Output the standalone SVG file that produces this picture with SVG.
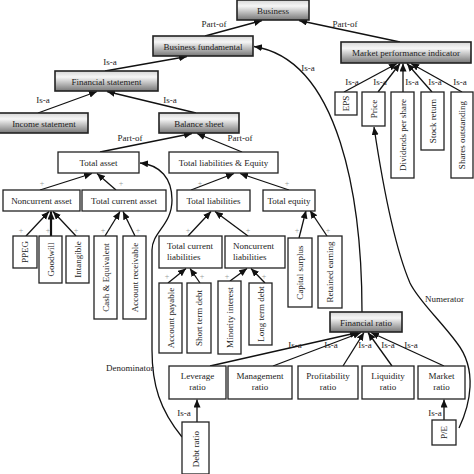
<svg xmlns="http://www.w3.org/2000/svg" width="474" height="474" viewBox="0 0 474 474">
<defs>
<linearGradient id="grad" x1="0" y1="0" x2="0" y2="1">
<stop offset="0" stop-color="#d6d6d6"/>
<stop offset="0.3" stop-color="#f6f6f6"/>
<stop offset="1" stop-color="#777"/>
</linearGradient>
<marker id="arr" markerUnits="userSpaceOnUse" markerWidth="9" markerHeight="8" refX="8" refY="3.5" orient="auto">
<path d="M0,0 L8,3.5 L0,7 z" fill="#111"/>
</marker>
<style>
.g{fill:url(#grad);stroke:#222;stroke-width:1.6}
.w{fill:#fff;stroke:#222;stroke-width:1.3}
text{font-family:"Liberation Serif","Times New Roman",serif;font-size:9px;fill:#222}
.m{text-anchor:middle}
.p{font-size:8px;fill:#999;text-anchor:middle}
#connectors line,#connectors path{stroke:#111;stroke-width:1.3;fill:none;marker-end:url(#arr)}
</style>
</defs>
<rect width="474" height="474" fill="#fff"/>

<g id="connectors">
<line x1="205" y1="36" x2="262" y2="20.5"/>
<line x1="400" y1="42" x2="299" y2="20.5"/>
<line x1="105" y1="71" x2="187" y2="56.5"/>
<line x1="38" y1="113" x2="97" y2="91.5"/>
<line x1="196" y1="113" x2="107" y2="91.5"/>
<line x1="100" y1="152" x2="192" y2="133.5"/>
<line x1="242" y1="152" x2="197" y2="133.5"/>
<line x1="40" y1="190" x2="92" y2="173.5"/>
<line x1="116" y1="190" x2="97" y2="173.5"/>
<line x1="191" y1="190" x2="234" y2="173.5"/>
<line x1="289" y1="190" x2="240" y2="173.5"/>
<line x1="26" y1="236" x2="49" y2="211.5"/>
<line x1="51" y1="236" x2="51" y2="211.5" style="stroke-width:2.2"/>
<line x1="76" y1="236" x2="53" y2="211.5"/>
<line x1="105" y1="236" x2="120" y2="211.5"/>
<line x1="135" y1="236" x2="123" y2="211.5"/>
<line x1="188" y1="236" x2="211" y2="211.5"/>
<line x1="248" y1="236" x2="215" y2="211.5"/>
<line x1="299" y1="238" x2="306" y2="210.5"/>
<line x1="327" y1="236" x2="310" y2="210.5"/>
<line x1="168" y1="283" x2="186" y2="268.5"/>
<line x1="200" y1="283" x2="190" y2="268.5"/>
<line x1="230" y1="281" x2="247" y2="268.5"/>
<line x1="265" y1="283" x2="251" y2="268.5"/>
<line x1="344" y1="92" x2="397" y2="63.5"/>
<line x1="378" y1="92" x2="400" y2="63.5"/>
<line x1="403" y1="92" x2="403" y2="63.5"/>
<line x1="432" y1="92" x2="407" y2="63.5"/>
<line x1="462" y1="92" x2="411" y2="63.5"/>
<line x1="210" y1="366" x2="358" y2="332.5"/>
<line x1="273" y1="366" x2="361" y2="332.5"/>
<line x1="343" y1="366" x2="364" y2="332.5"/>
<line x1="392" y1="366" x2="368" y2="332.5"/>
<line x1="444" y1="366" x2="371" y2="332.5"/>
<line x1="197" y1="422" x2="197" y2="399.5"/>
<line x1="444" y1="420" x2="444" y2="399.5"/>
<path d="M362,312 C362,200 340,60 254,46.5"/>
<path d="M182,437 C160,410 152,385 152,350 L152,250 C152,232 172,225 172,200 C172,178 160,165 140,163"/>
<path d="M459,428 C470,405 478,370 457,343 C440,320 418,300 410,283 C398,255 385,200 374,127"/>
</g>

<g id="edge-labels">
<text x="214" y="27" class="m">Part-of</text>
<text x="345" y="27" class="m">Part-of</text>
<text x="110" y="65" class="m">Is-a</text>
<text x="43" y="103" class="m">Is-a</text>
<text x="170" y="103" class="m">Is-a</text>
<text x="130" y="141" class="m">Part-of</text>
<text x="240" y="141" class="m">Part-of</text>
<text x="308" y="71" class="m">Is-a</text>
<text x="352" y="85" class="m">Is-a</text>
<text x="380" y="85" class="m">Is-a</text>
<text x="412" y="85" class="m">Is-a</text>
<text x="435" y="85" class="m">Is-a</text>
<text x="460" y="85" class="m">Is-a</text>
<text x="295" y="348" class="m">Is-a</text>
<text x="331" y="348" class="m">Is-a</text>
<text x="365" y="348" class="m">Is-a</text>
<text x="388" y="348" class="m">Is-a</text>
<text x="411" y="348" class="m">Is-a</text>
<text x="184" y="416" class="m">Is-a</text>
<text x="435" y="416" class="m">Is-a</text>
<text x="106" y="371">Denominator</text>
<text x="425" y="302">Numerator</text>
<text x="42" y="186" class="p">+</text>
<text x="121" y="186" class="p">+</text>
<text x="200" y="186" class="p">+</text>
<text x="287" y="186" class="p">+</text>
<text x="21" y="233" class="p">+</text>
<text x="48" y="233" class="p">+</text>
<text x="76" y="233" class="p">+</text>
<text x="103" y="233" class="p">+</text>
<text x="138" y="233" class="p">+</text>
<text x="188" y="233" class="p">+</text>
<text x="248" y="233" class="p">+</text>
<text x="297" y="233" class="p">+</text>
<text x="328" y="233" class="p">+</text>
<text x="167" y="279" class="p">+</text>
<text x="202" y="279" class="p">+</text>
<text x="227" y="279" class="p">+</text>
<text x="264" y="279" class="p">+</text>
</g>

<g id="business"><rect class="g" x="237" y="0" width="72" height="20"/><text x="273" y="13.5" class="m">Business</text></g>
<g id="business-fundamental"><rect class="g" x="153" y="36" width="100" height="20"/><text x="203" y="49.5" class="m">Business fundamental</text></g>
<g id="market-performance-indicator"><rect class="g" x="341" y="42" width="130" height="21"/><text x="406" y="55.5" class="m">Market performance indicator</text></g>
<g id="financial-statement"><rect class="g" x="55" y="71" width="103" height="20"/><text x="106.5" y="84.5" class="m">Financial statement</text></g>
<g id="income-statement"><rect class="g" x="-1" y="113" width="89" height="20"/><text x="44" y="126.5" class="m">Income statement</text></g>
<g id="balance-sheet"><rect class="g" x="159" y="113" width="80" height="20"/><text x="199" y="126.5" class="m">Balance sheet</text></g>
<g id="total-asset"><rect class="w" x="58" y="152" width="81" height="21"/><text x="98.5" y="165.5" class="m">Total asset</text></g>
<g id="total-liabilities-equity"><rect class="w" x="169" y="152" width="109" height="21"/><text x="223.5" y="165.5" class="m">Total liabilities &amp; Equity</text></g>
<g id="noncurrent-asset"><rect class="w" x="3" y="190" width="77" height="21"/><text x="41.5" y="203.5" class="m">Noncurrent asset</text></g>
<g id="total-current-asset"><rect class="w" x="82" y="190" width="84" height="21"/><text x="124" y="203.5" class="m">Total current asset</text></g>
<g id="total-liabilities"><rect class="w" x="177" y="190" width="73" height="21"/><text x="213.5" y="203.5" class="m">Total liabilities</text></g>
<g id="total-equity"><rect class="w" x="263" y="190" width="52" height="21"/><text x="289" y="203.5" class="m">Total equity</text></g>
<g id="ppeg"><rect class="w" x="13" y="236" width="24" height="32"/><text transform="translate(28,252) rotate(-90)" class="m">PPEG</text></g>
<g id="goodwill"><rect class="w" x="39" y="236" width="23" height="47"/><text transform="translate(53.5,259.5) rotate(-90)" class="m">Goodwill</text></g>
<g id="intangible"><rect class="w" x="66" y="236" width="23" height="47"/><text transform="translate(80.5,259.5) rotate(-90)" class="m">Intangible</text></g>
<g id="cash-equivalent"><rect class="w" x="94" y="236" width="23" height="83"/><text transform="translate(108.5,277.5) rotate(-90)" class="m">Cash &amp; Equivalent</text></g>
<g id="account-receivable"><rect class="w" x="123" y="236" width="23" height="83"/><text transform="translate(137.5,277.5) rotate(-90)" class="m">Account receivable</text></g>
<g id="total-current-liabilities"><rect class="w" x="159" y="236" width="63" height="32"/><text x="167" y="249">Total current</text><text x="167" y="260">liabilities</text></g>
<g id="noncurrent-liabilities"><rect class="w" x="225" y="236" width="60" height="32"/><text x="233" y="249">Noncurrent</text><text x="233" y="260">liabilities</text></g>
<g id="capital-surplus"><rect class="w" x="288" y="238" width="24" height="69"/><text transform="translate(303,272.5) rotate(-90)" class="m">Capital surplus</text></g>
<g id="retained-earning"><rect class="w" x="318" y="236" width="24" height="72"/><text transform="translate(333,272) rotate(-90)" class="m">Retained earning</text></g>
<g id="account-payable"><rect class="w" x="159" y="283" width="23" height="70"/><text transform="translate(173.5,318) rotate(-90)" class="m">Account payable</text></g>
<g id="short-term-debt"><rect class="w" x="187" y="283" width="24" height="70"/><text transform="translate(202,318) rotate(-90)" class="m">Short term debt</text></g>
<g id="minority-interest"><rect class="w" x="218" y="281" width="23" height="73"/><text transform="translate(232.5,317.5) rotate(-90)" class="m">Minority interest</text></g>
<g id="long-term-debt"><rect class="w" x="249" y="283" width="23" height="62"/><text transform="translate(263.5,314) rotate(-90)" class="m">Long term debt</text></g>
<g id="eps"><rect class="w" x="335" y="92" width="22" height="23"/><text transform="translate(349,103.5) rotate(-90)" class="m">EPS</text></g>
<g id="price"><rect class="w" x="362" y="92" width="23" height="34"/><text transform="translate(376.5,109) rotate(-90)" class="m">Price</text></g>
<g id="dividends-per-share"><rect class="w" x="391" y="92" width="23" height="86"/><text transform="translate(405.5,135) rotate(-90)" class="m">Dividends per share</text></g>
<g id="stock-return"><rect class="w" x="421" y="92" width="23" height="58"/><text transform="translate(435.5,121) rotate(-90)" class="m">Stock return</text></g>
<g id="shares-outstanding"><rect class="w" x="451" y="92" width="22" height="86"/><text transform="translate(465,135) rotate(-90)" class="m">Shares outstanding</text></g>
<g id="financial-ratio"><rect class="g" x="330" y="312" width="72" height="20"/><text x="366" y="325.5" class="m">Financial ratio</text></g>
<g id="leverage-ratio"><rect class="w" x="169" y="366" width="57" height="33"/><text x="197.5" y="379" class="m">Leverage</text><text x="197.5" y="390" class="m">ratio</text></g>
<g id="management-ratio"><rect class="w" x="228" y="366" width="64" height="33"/><text x="260" y="379" class="m">Management</text><text x="260" y="390" class="m">ratio</text></g>
<g id="profitability-ratio"><rect class="w" x="298" y="366" width="60" height="33"/><text x="328" y="379" class="m">Profitability</text><text x="328" y="390" class="m">ratio</text></g>
<g id="liquidity-ratio"><rect class="w" x="362" y="366" width="52" height="33"/><text x="388" y="379" class="m">Liquidity</text><text x="388" y="390" class="m">ratio</text></g>
<g id="market-ratio"><rect class="w" x="418" y="366" width="47" height="33"/><text x="441.5" y="379" class="m">Market</text><text x="441.5" y="390" class="m">ratio</text></g>
<g id="debt-ratio"><rect class="w" x="182" y="422" width="27" height="52"/><text transform="translate(198.5,449) rotate(-90)" class="m">Debt ratio</text></g>
<g id="pe"><rect class="w" x="432" y="420" width="24" height="25"/><text transform="translate(447,432.5) rotate(-90)" class="m">P/E</text></g>
</svg>
